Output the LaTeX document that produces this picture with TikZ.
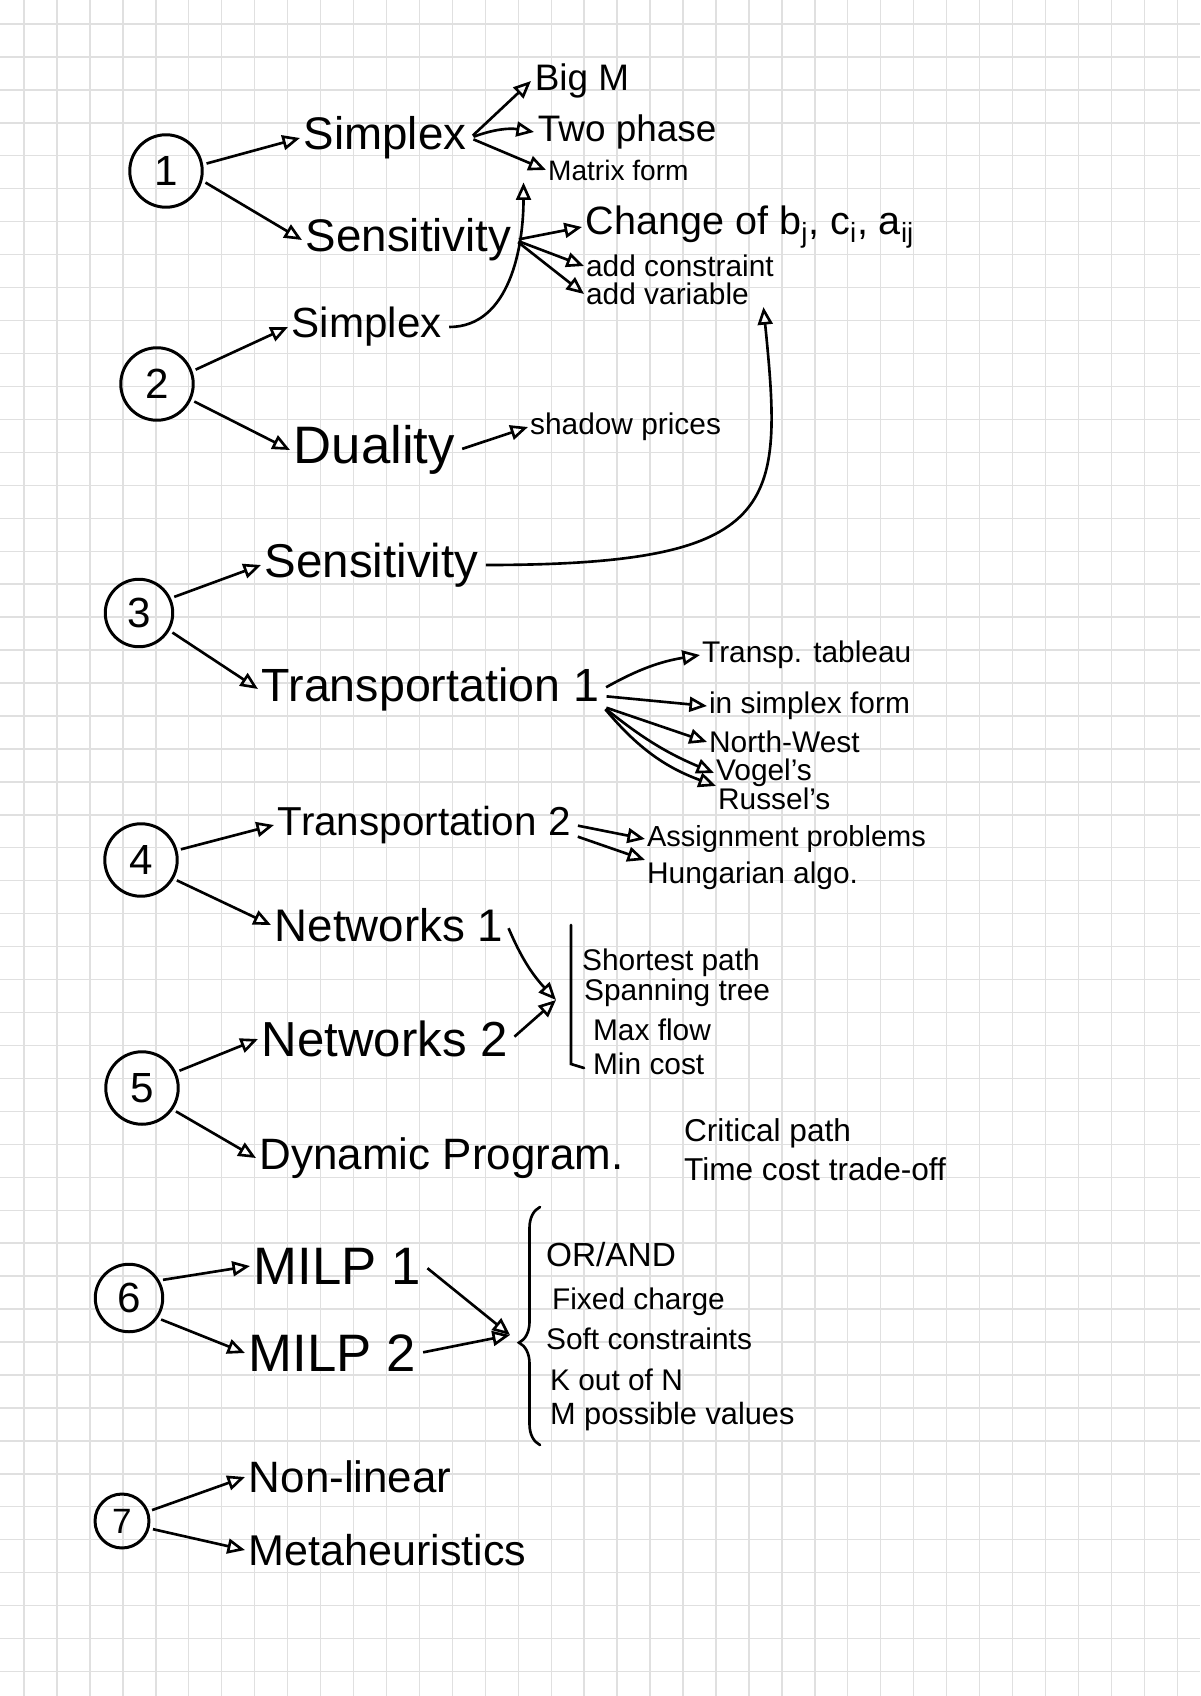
\documentclass[tikz,border=0pt]{standalone}
\usepackage{fontspec}
\setmainfont{Liberation Sans}
\usepackage{xcolor}
\usetikzlibrary{arrows.meta, calc, decorations.pathreplacing}

\definecolor{gridgray}{RGB}{224,224,224}

\begin{document}
\begin{tikzpicture}[
    x=0.02cm, y=-0.02cm,
    topic/.style={anchor=west, inner sep=2pt, font=\fontsize{26}{28}\selectfont},
    sub/.style={anchor=west, inner sep=2pt, font=\fontsize{21}{23}\selectfont},
    item/.style={anchor=west, inner sep=1pt, font=\fontsize{17}{19}\selectfont},
    num/.style={circle, draw=black, line width=1.7pt, minimum size=1.45cm, inner sep=0pt, font=\fontsize{24}{26}\selectfont},
    arrow/.style={-{Triangle[open, length=10pt, width=8.5pt]}, line width=1.5pt, shorten <=2pt},
    stroke/.style={line width=1.5pt, line cap=round},
    gridline/.style={gridgray, line width=0.8pt}
]
\useasboundingbox (0,0) rectangle (1200,1696);
\fill[white] (0,0) rectangle (1200,1696);

% squared paper
\foreach \i in {0,...,35}
    \draw[gridline] ({24+32.95*\i},0) -- ({24+32.95*\i},1696);
\foreach \i in {0,...,50}
    \draw[gridline] (0,{24+32.95*\i}) -- (1200,{24+32.95*\i});

% week numbers
\node[num] (c1) at (166,171) {1};
\node[num] (c2) at (157,384) {2};
\node[num, minimum size=1.35cm] (c3) at (139,613) {3};
\node[num] (c4) at (141,860) {4};
\node[num] (c5) at (142,1088) {5};
\node[num, minimum size=1.35cm] (c6) at (129,1298) {6};
\node[num, minimum size=1.08cm, font=\fontsize{20}{22}\selectfont] (c7) at (122,1521) {7};

% week 1
\node[topic] (simplexA) at (300,138) {Simplex};
\node[topic] (sensA) at (302,240) {Sensitivity};
\node[sub] (bigM) at (531,81) {Big M};
\node[sub] (twoPhase) at (534,132) {Two phase};
\node[item, font=\fontsize{16}{18}\selectfont] (matrix) at (546,170) {Matrix form};
\node[sub, font=\fontsize{22.5}{24}\selectfont] (change) at (582,227)
    {Change of b\textsubscript{j}, c\textsubscript{i}, a\textsubscript{ij}};
\node[item] (addCon) at (584,266) {add constraint};
\node[item] (addVar) at (584,294) {add variable};

\draw[arrow] (c1.10) -- (simplexA.west);
\draw[arrow] (c1.-15) -- (sensA.west);
\draw[arrow] (simplexA.east) -- (bigM.west);
\draw[arrow] (simplexA.east) to[bend left=15] (twoPhase.west);
\draw[arrow] (simplexA.east) -- (matrix.west);
\draw[arrow] (sensA.east) -- (change.west);
\draw[arrow] (sensA.east) -- (addCon.west);
\draw[arrow] (sensA.east) -- (addVar.west);

% week 2
\node[topic, font=\fontsize{24}{26}\selectfont] (simplexB) at (288,327) {Simplex};
\node[topic, font=\fontsize{30}{32}\selectfont] (duality) at (290,450) {Duality};
\node[item] (shadow) at (528,427) {shadow prices};

\draw[arrow] (c2.20) -- (simplexB.west);
\draw[arrow] (c2.-25) -- (duality.west);
\draw[arrow] (duality.east) -- (shadow.west);
\draw[arrow] (simplexB.east) to[out=0, in=-90] ([xshift=-0.45cm]matrix.south west);

% week 3
\node[topic, font=\fontsize{27}{29}\selectfont] (sensB) at (261,565) {Sensitivity};
\node[topic, font=\fontsize{26.5}{28}\selectfont] (trans1) at (258,689) {Transportation 1};
\node[item] (tableau) at (700,655) {Transp. tableau};
\node[item] (inSimplex) at (707,706) {in simplex form};
\node[item] (northWest) at (707,742) {North-West};
\node[item] (vogel) at (714,773) {Vogel's};
\node[item] (russel) at (716,799) {Russel's};

\draw[arrow] (c3.25) -- (sensB.west);
\draw[arrow] (c3.-30) -- (trans1.west);
\draw[arrow] (sensB.east) .. controls +(300,0) and +(20,200) .. ([xshift=0.25cm]addVar.south east);
\draw[arrow] (trans1.east) to[bend left=10] (tableau.west);
\draw[arrow] ([yshift=-4pt]trans1.east) -- (inSimplex.west);
\draw[arrow] ([yshift=-10pt]trans1.east) -- (northWest.west);
\draw[arrow] ([yshift=-10pt]trans1.east) to[bend right=8] (vogel.west);
\draw[arrow] ([yshift=-10pt]trans1.east) to[bend right=15] (russel.north west);

% week 4
\node[topic, font=\fontsize{23}{25}\selectfont] (trans2) at (274,825) {Transportation 2};
\node[topic] (net1) at (271,925) {Networks 1};
\node[item, font=\fontsize{16.5}{18}\selectfont] (assign) at (645,839) {Assignment problems};
\node[item] (hungarian) at (645,876) {Hungarian algo.};

\draw[arrow] (c4.15) -- (trans2.west);
\draw[arrow] (c4.-30) -- (net1.west);
\draw[arrow] (trans2.east) -- (assign.west);
\draw[arrow] ([yshift=-6pt]trans2.east) -- (hungarian.north west);

% week 5
\node[topic, font=\fontsize{28}{30}\selectfont] (net2) at (258,1039) {Networks 2};
\node[topic, font=\fontsize{25}{27}\selectfont] (dynamic) at (256,1158) {Dynamic Program.};
\node[item] (shortest) at (580,963) {Shortest path};
\node[item] (spanning) at (582,993) {Spanning tree};
\node[item] (maxflow) at (591,1030) {Max flow};
\node[item] (mincost) at (591,1064) {Min cost};
\node[item, font=\fontsize{18}{20}\selectfont] (critical) at (682,1133) {Critical path};
\node[item, font=\fontsize{18}{20}\selectfont] (timecost) at (682,1169) {Time cost trade-off};
\coordinate (netjoin) at (556,1000);

\draw[stroke] (571,925) -- (571,1064) -- (584,1068);
\draw[arrow] (c5.25) -- (net2.west);
\draw[arrow] (c5.-35) -- (dynamic.west);
\draw[arrow] (net1.east) to[bend right=10] (netjoin);
\draw[arrow] (net2.east) -- (netjoin);

% week 6
\node[topic, font=\fontsize{30}{32}\selectfont] (milp1) at (250,1266) {MILP 1};
\node[topic, font=\fontsize{30}{32}\selectfont] (milp2) at (245,1353) {MILP 2};
\node[item, font=\fontsize{19}{21}\selectfont] (orand) at (544,1255) {OR/AND};
\node[item] (fixed) at (550,1302) {Fixed charge};
\node[item] (soft) at (544,1339) {Soft constraints};
\node[item] (kout) at (548,1380) {K out of N};
\node[item, font=\fontsize{17.5}{19}\selectfont] (mposs) at (548,1417) {M possible values};
\coordinate (milpjoin) at (510,1335);

\draw[stroke, decorate, decoration={brace, amplitude=0.42cm, aspect=0.43}]
    (540,1445) -- (540,1207);
\draw[arrow] (c6.30) -- (milp1.west);
\draw[arrow] (c6.-35) -- (milp2.west);
\draw[arrow] (milp1.east) -- (milpjoin);
\draw[arrow] (milp2.east) -- (milpjoin);

% week 7
\node[topic, font=\fontsize{25}{27}\selectfont] (nonlin) at (245,1477) {Non-linear};
\node[topic, font=\fontsize{24.5}{26}\selectfont] (meta) at (245,1550) {Metaheuristics};

\draw[arrow] (c7.20) -- (nonlin.west);
\draw[arrow] (c7.-15) -- (meta.west);
\end{tikzpicture}
\end{document}
